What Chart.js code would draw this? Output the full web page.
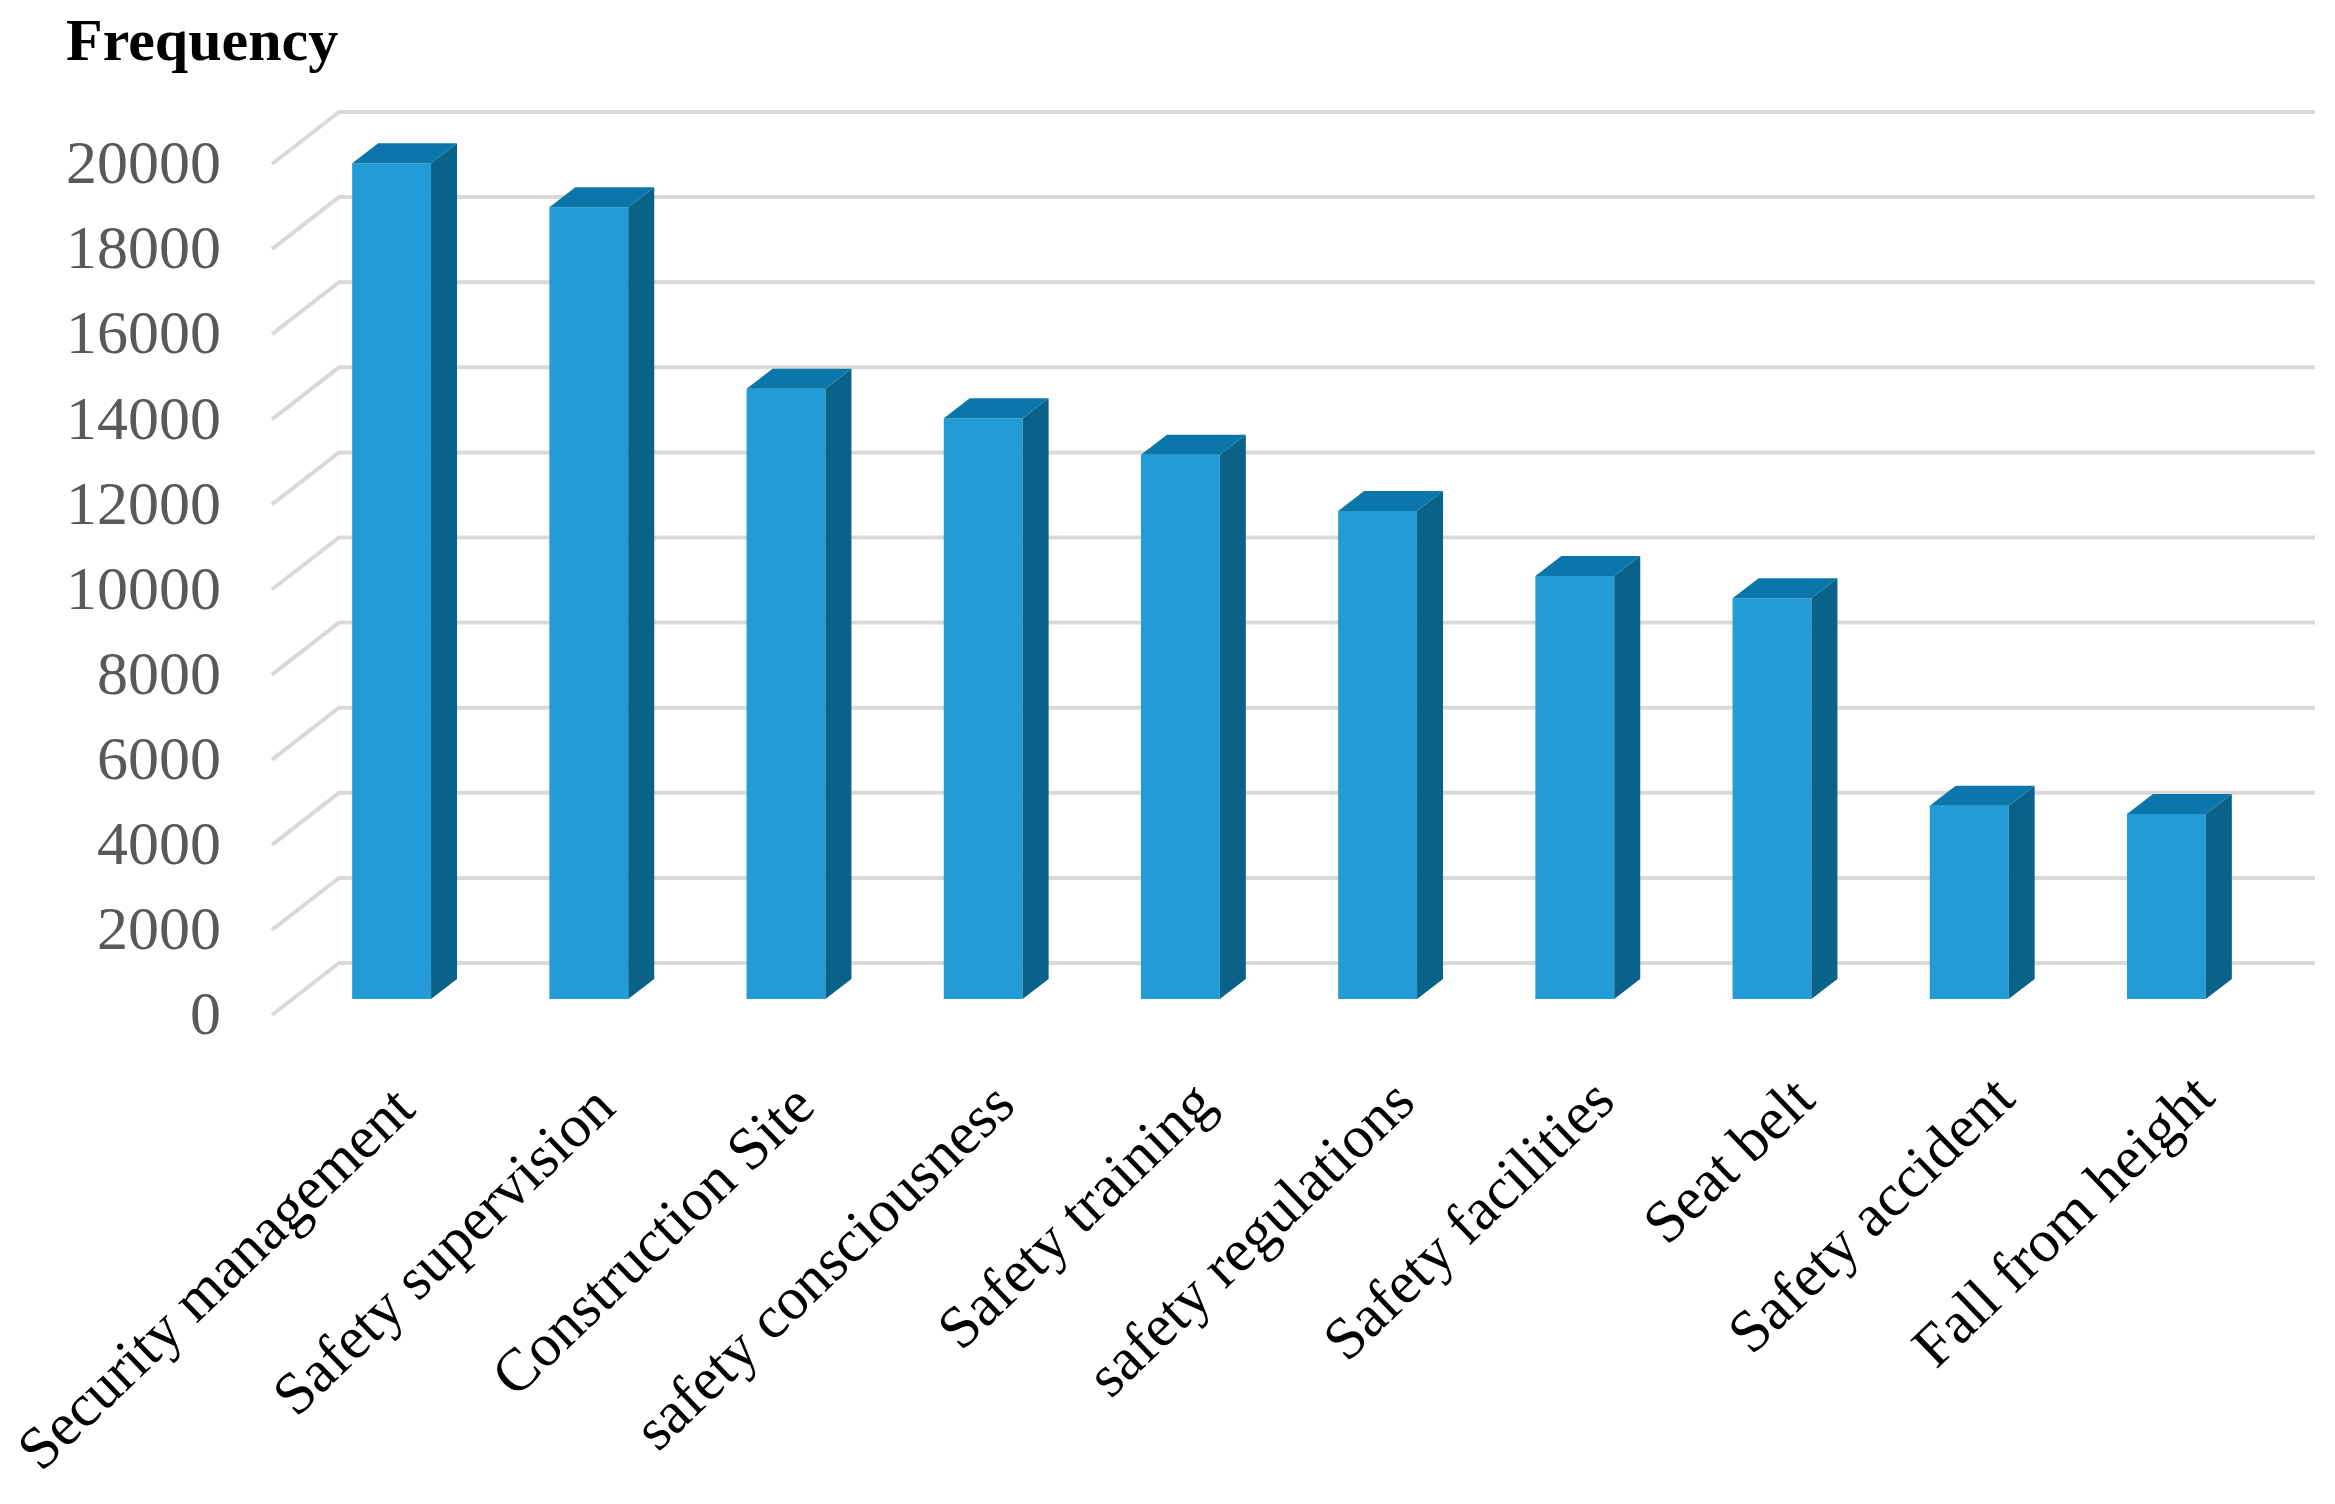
<!DOCTYPE html>
<html>
<head>
<meta charset="utf-8">
<script src="https://cdn.jsdelivr.net/npm/chart.js@4"></script>
<style>
  html, body { margin: 0; padding: 0; background: #fff; }
  #wrap { width: 2335px; height: 1504px; }
</style>
</head>
<body>
<div id="wrap"><canvas id="chart" width="2335" height="1504"></canvas></div>
<script>
const categories = [
    'Security management', 'Safety supervision', 'Construction Site', 'safety consciousness',
    'Safety training', 'safety regulations', 'Safety facilities', 'Seat belt',
    'Safety accident', 'Fall from height'
];
const frequencies = [19640, 18610, 14340, 13650, 12790, 11470, 9940, 9420, 4540, 4350];
const axisTitle = 'Frequency';
const yMin = 0;
const yMax = 20000;
const yStep = 2000;

// colours of the three bar faces
const frontColor = '#229BD6';
const sideColor = '#0B6289';
const topColor = '#0A76A9';
const gridColor = '#D9D9D9';

// fake 3d: bar depth and the back wall offsets
const depthX = 26, depthY = 20;
const wallFrontX = 272, wallBackX = 339, wallRightX = 2315;
const wallFrontDy = 16, wallBackDy = 36;

const wallPlugin = {
    id: 'wall',
    beforeDatasetsDraw(chart) {
        const ctx = chart.ctx;
        const y = chart.scales.y;
        ctx.save();
        ctx.strokeStyle = gridColor;
        ctx.lineWidth = 4;
        y.ticks.forEach(t => {
            const py = y.getPixelForValue(t.value);
            ctx.beginPath();
            ctx.moveTo(wallFrontX, py + wallFrontDy);
            ctx.lineTo(wallBackX, py - wallBackDy);
            ctx.lineTo(wallRightX, py - wallBackDy);
            ctx.stroke();
        });
        ctx.restore();
    }
};

function poly(ctx, pts, color) {
    ctx.fillStyle = color;
    ctx.beginPath();
    ctx.moveTo(pts[0][0], pts[0][1]);
    pts.slice(1).forEach(p => ctx.lineTo(p[0], p[1]));
    ctx.closePath();
    ctx.fill();
}

const depthPlugin = {
    id: 'depth',
    afterDatasetsDraw(chart) {
        const ctx = chart.ctx;
        ctx.save();
        chart.getDatasetMeta(0).data.forEach(bar => {
            const l = bar.x - bar.width / 2;
            const r = bar.x + bar.width / 2;
            poly(ctx, [[r, bar.y], [r + depthX, bar.y - depthY], [r + depthX, bar.base - depthY], [r, bar.base]], sideColor);
            poly(ctx, [[l, bar.y], [l + depthX, bar.y - depthY], [r + depthX, bar.y - depthY], [r, bar.y]], topColor);
        });
        ctx.restore();
    }
};

// rotated category labels, each one ending just under its bar
const labelPlugin = {
    id: 'rotLabels',
    afterDraw(chart) {
        const ctx = chart.ctx;
        const x = chart.scales.x;
        const theta = 43.8 * Math.PI / 180;
        ctx.save();
        ctx.fillStyle = '#000';
        ctx.font = '60px "Liberation Serif"';
        ctx.textAlign = 'right';
        ctx.textBaseline = 'alphabetic';
        categories.forEach((label, i) => {
            const f = i / (categories.length - 1);
            ctx.save();
            ctx.translate(x.getPixelForValue(i) + 26 + 25 * f, 1112 - 12 * f);
            ctx.rotate(-theta);
            ctx.fillText(label, 0, 0);
            ctx.restore();
        });
        ctx.restore();
    }
};

new Chart(document.getElementById('chart'), {
    type: 'bar',
    data: {
        labels: categories,
        datasets: [{
            data: frequencies,
            backgroundColor: frontColor,
            borderWidth: 0,
            barPercentage: 0.4,
            categoryPercentage: 1.0
        }]
    },
    options: {
        responsive: false,
        animation: false,
        devicePixelRatio: 1,
        layout: { padding: { left: 66, right: 70, top: 0, bottom: 505 } },
        plugins: {
            legend: { display: false },
            tooltip: { enabled: false },
            title: {
                display: true,
                text: axisTitle,
                align: 'start',
                color: '#000',
                font: { family: 'Liberation Serif', size: 60, weight: 'bold' },
                padding: { top: 8, bottom: 68 }
            }
        },
        scales: {
            x: { display: false },
            y: {
                min: yMin,
                max: yMax,
                ticks: {
                    stepSize: yStep,
                    labelOffset: wallFrontDy + 3,
                    padding: 64,
                    color: '#595959',
                    font: { family: 'Liberation Serif', size: 62 },
                    callback: v => String(v)
                },
                grid: { display: false },
                border: { display: false },
                afterFit(scale) { scale.width = 227; }
            }
        }
    },
    plugins: [wallPlugin, depthPlugin, labelPlugin]
});
</script>
</body>
</html>
